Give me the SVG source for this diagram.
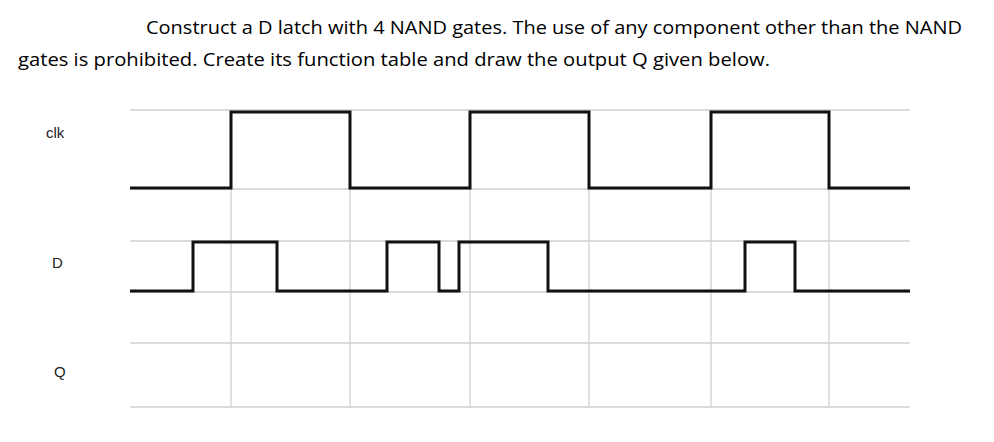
<svg xmlns="http://www.w3.org/2000/svg" width="994" height="442" viewBox="0 0 994 442">
<style>
.t{font-family:"Open Sans","Liberation Sans",sans-serif;font-size:19px;fill:#000}
.l{font-family:"Liberation Sans",sans-serif;font-size:15px;fill:#222}
.g{stroke:#cfcfcf;stroke-width:1.3;fill:none}
.w{stroke:#111;stroke-width:3;fill:none}
</style>
<rect width="994" height="442" fill="#fff"/>
<text class="t" x="146" y="34" textLength="816" lengthAdjust="spacingAndGlyphs">Construct a D latch with 4 NAND gates. The use of any component other than the NAND</text>
<text class="t" x="18" y="66" textLength="752" lengthAdjust="spacingAndGlyphs">gates is prohibited. Create its function table and draw the output Q given below.</text>
<g id="grid">
<path class="g" d="M130 110H910M130 189H910M130 241H910M130 292H910M130 343H910M130 407H910"/>
<path class="g" d="M231 189V407M350 189V407M470 189V407M589 189V407M711 189V407M829 189V407"/>
</g>
<g id="labels">
<text class="l" x="46" y="138">clk</text>
<text class="l" x="52" y="268">D</text>
<text class="l" x="54" y="377">Q</text>
</g>
<g id="connectors">
<path id="clk" class="w" d="M130 188H231V112H350V188H470V112H589V188H711V112H829V188H910"/>
<path id="d" class="w" d="M130 291H193V242H277V291H387V242H439V291H459V242H548V291H745V242H795V291H910"/>
</g>
</svg>
